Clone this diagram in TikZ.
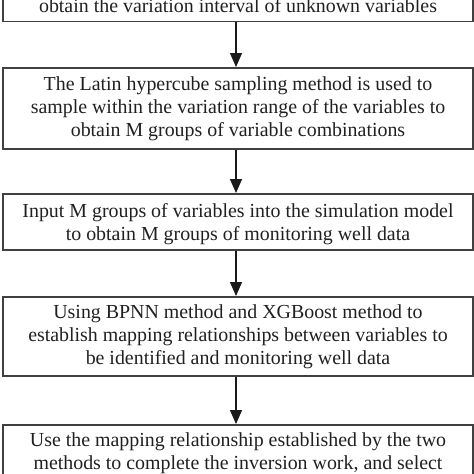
\documentclass[tikz,border=0pt]{standalone}
\usepackage{fontspec}
\setmainfont{Liberation Serif}
\usetikzlibrary{arrows.meta}
\definecolor{boxgray}{HTML}{404040}
\definecolor{textgray}{HTML}{202020}
\definecolor{arrowgray}{HTML}{1A1A1A}
\begin{document}
\begin{tikzpicture}[x=1pt,y=1pt,
  stepbox/.style={draw=boxgray, line width=1.5pt, minimum width=470pt, inner sep=0pt, align=center, text=textgray, font=\fontsize{19.9}{23}\selectfont},
  flow/.style={draw=arrowgray, line width=1.3pt, -{Triangle[width=12pt,length=14pt]}}]
\useasboundingbox (0,0) rectangle (474,-474);
\clip (0,0) rectangle (474,-474);
\node[stepbox, anchor=south, minimum height=32pt] (b1) at (238,-22) {obtain the variation interval of unknown variables};
\node[stepbox, anchor=north, minimum height=81pt] (b2) at (238,-67) {The Latin hypercube sampling method is used to\\sample within the variation range of the variables to\\obtain M groups of variable combinations};
\node[stepbox, anchor=north, minimum height=56pt, text depth=-2pt] (b3) at (238,-193) {Input M groups of variables into the simulation model\\to obtain M groups of monitoring well data};
\node[stepbox, anchor=north, minimum height=79pt] (b4) at (238,-296) {Using BPNN method and XGBoost method to\\establish mapping relationships between variables to\\be identified and monitoring well data};
\node[stepbox, anchor=north, minimum height=56pt] (b5) at (238,-424) {Use the mapping relationship established by the two\\methods to complete the inversion work, and select};
\foreach \a/\b in {b1/b2,b2/b3,b3/b4,b4/b5}
  \draw[flow] ([xshift=-2pt]\a.south) -- ([xshift=-2pt]\b.north);
\end{tikzpicture}
\end{document}
